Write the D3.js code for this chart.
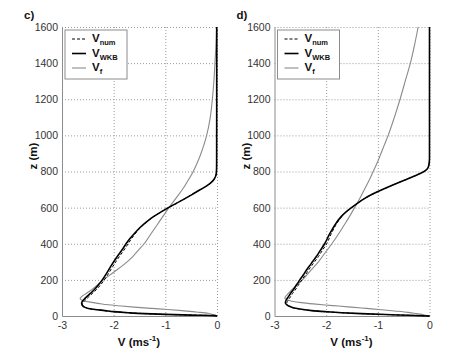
<!DOCTYPE html>
<html><head><meta charset="utf-8">
<script src="https://cdn.jsdelivr.net/npm/d3@7"></script>
<style>
body{margin:0;background:#fff;}
svg{display:block;font-family:"Liberation Sans",Arial,sans-serif;}
</style></head><body>
<svg id="c" width="474" height="355"></svg>
<script>
// ---- data ----
const xTicks = [-3, -2, -1, 0];
const yTicks = [0, 200, 400, 600, 800, 1000, 1200, 1400, 1600];
const panelLabels = ["c)", "d)"];

// panel c
const zWkbC = [0,2,5,9,13,18,24,30,36,42,50,61,70,79,90,107,125,144,170,200,235,273,329,365,400,430,460,490,520,550,575,600,625,650,675,700,720,740,760,780,800,850,1600];
const vWkbC = [0,-0.04,-0.5,-1.0,-1.4,-1.72,-2.0,-2.17,-2.36,-2.49,-2.57,-2.61,-2.62,-2.61,-2.58,-2.52,-2.45,-2.38,-2.30,-2.22,-2.14,-2.06,-1.93,-1.84,-1.76,-1.68,-1.59,-1.49,-1.37,-1.23,-1.09,-0.94,-0.78,-0.62,-0.47,-0.32,-0.20,-0.11,-0.05,-0.02,-0.01,-0.007,-0.005];
const zNumC = [0,2,5,9,13,18,24,30,36,42,50,61,70,79,90,107,125,144,170,200,235,273,329,365,400,430,460,490,520,550,575,600,625,650,675,700,720,740,760,780,800,850,1600];
const vNumC = [0,-0.04,-0.5,-1.0,-1.4,-1.72,-2.0,-2.17,-2.36,-2.49,-2.57,-2.61,-2.60,-2.58,-2.54,-2.48,-2.41,-2.34,-2.26,-2.18,-2.10,-2.02,-1.89,-1.80,-1.72,-1.65,-1.57,-1.48,-1.36,-1.23,-1.09,-0.94,-0.78,-0.62,-0.47,-0.32,-0.20,-0.11,-0.05,-0.02,-0.01,-0.007,-0.005];
const zFC = [0,8,15,22,30,36,42,49,55,62,70,78,86,95,107,125,144,170,200,228,255,290,329,365,400,450,500,550,600,650,700,750,800,850,900,950,1000,1100,1200,1300,1400,1500,1600];
const vFC = [0,-0.08,-0.17,-0.40,-0.68,-0.95,-1.26,-1.60,-1.85,-2.10,-2.30,-2.48,-2.60,-2.65,-2.62,-2.53,-2.43,-2.32,-2.20,-2.07,-1.94,-1.78,-1.63,-1.52,-1.41,-1.29,-1.17,-1.05,-0.93,-0.80,-0.67,-0.56,-0.46,-0.38,-0.31,-0.25,-0.20,-0.13,-0.09,-0.06,-0.04,-0.02,-0.01];

// panel d
const zWkbD = [0,4,8,13,18,24,30,37,44,52,62,74,90,107,125,144,170,200,228,255,290,329,365,400,450,500,550,575,600,625,650,675,700,725,750,775,790,805,820,840,870,1600];
const vWkbD = [0,-0.41,-0.85,-1.32,-1.70,-2.02,-2.28,-2.48,-2.62,-2.70,-2.76,-2.79,-2.77,-2.73,-2.69,-2.64,-2.58,-2.51,-2.44,-2.38,-2.29,-2.19,-2.11,-2.03,-1.94,-1.84,-1.71,-1.62,-1.51,-1.39,-1.26,-1.10,-0.91,-0.71,-0.50,-0.29,-0.17,-0.08,-0.03,-0.01,0,0];
const zNumD = [0,4,8,13,18,24,30,37,44,52,62,74,90,107,125,144,170,200,228,255,290,329,365,400,450,500,550,575,600,625,650,675,700,725,750,775,790,805,820,840,870,1600];
const vNumD = [0,-0.41,-0.85,-1.32,-1.70,-2.02,-2.28,-2.48,-2.62,-2.70,-2.75,-2.76,-2.73,-2.69,-2.65,-2.60,-2.54,-2.47,-2.40,-2.34,-2.25,-2.15,-2.07,-1.99,-1.91,-1.82,-1.70,-1.62,-1.51,-1.39,-1.26,-1.10,-0.91,-0.71,-0.50,-0.29,-0.17,-0.08,-0.03,-0.01,0,0];
const zFD = [0,6,13,20,28,35,42,49,55,61,67,74,82,90,98,107,116,130,144,170,200,255,300,350,400,450,500,550,600,650,700,750,800,850,900,950,1000,1100,1200,1300,1400,1500,1600];
const vFD = [0,-0.10,-0.25,-0.41,-0.68,-0.93,-1.22,-1.51,-1.76,-2.02,-2.25,-2.48,-2.66,-2.76,-2.80,-2.79,-2.76,-2.72,-2.67,-2.57,-2.46,-2.29,-2.15,-2.02,-1.89,-1.77,-1.66,-1.55,-1.45,-1.35,-1.26,-1.17,-1.09,-1.01,-0.94,-0.87,-0.80,-0.68,-0.57,-0.47,-0.37,-0.29,-0.22];

// ---- drawing ----
const svg = d3.select("#c");
const panels = [
  {left:62, label:panelLabels[0], num:[zNumC,vNumC], wkb:[zWkbC,vWkbC], f:[zFC,vFC]},
  {left:274.5, label:panelLabels[1], num:[zNumD,vNumD], wkb:[zWkbD,vWkbD], f:[zFD,vFD]}
];
const W = 155, plotTop = 27, plotBottom = 316;

panels.forEach(p => {
  const x = d3.scaleLinear().domain([-3,0]).range([p.left, p.left+W]);
  const y = d3.scaleLinear().domain([0,1600]).range([plotBottom, plotTop]);
  const g = svg.append("g");

  // grid
  g.append("g").selectAll("line").data(xTicks.slice(1)).join("line")
    .attr("x1", d=>x(d)+0.5).attr("x2", d=>x(d)+0.5).attr("y1", plotTop).attr("y2", plotBottom)
    .attr("stroke","#9a9a9a").attr("stroke-width",1).attr("stroke-dasharray","1,2");
  g.append("g").selectAll("line").data(yTicks.slice(1)).join("line")
    .attr("y1", d=>y(d)+0.5).attr("y2", d=>y(d)+0.5).attr("x1", p.left).attr("x2", p.left+W)
    .attr("stroke","#9a9a9a").attr("stroke-width",1).attr("stroke-dasharray","1,2");

  // axes
  const fmt = d => String(d);
  const ax = g.append("g").attr("transform",`translate(0,${plotBottom})`)
    .call(d3.axisBottom(x).tickValues(xTicks).tickSize(0).tickPadding(4).tickFormat(fmt));
  const ay = g.append("g").attr("transform",`translate(${p.left},0)`)
    .call(d3.axisLeft(y).tickValues(yTicks).tickSize(0).tickPadding(4).tickFormat(fmt));
  [ax, ay].forEach(a => {
    a.select(".domain").attr("stroke","#8c8c8c").attr("stroke-width",1);
    a.selectAll("text").attr("fill","#333").style("font-size","10.5px")
      .style("font-family","'Liberation Sans',Arial,sans-serif");
  });
  ax.selectAll("text").attr("dy","0.9em");

  // curves
  const line = d3.line().x(d=>x(d[1])).y(d=>y(d[0])).curve(d3.curveMonotoneY);
  const pts = arr => arr[0].map((z,i)=>[z, arr[1][i]]);
  g.append("path").datum(pts(p.f)).attr("d", line).attr("fill","none")
    .attr("stroke","#8a8a8a").attr("stroke-width",1.1);
  g.append("path").datum(pts(p.wkb)).attr("d", line).attr("fill","none")
    .attr("stroke","#000").attr("stroke-width",1.6);
  g.append("path").datum(pts(p.num)).attr("d", line).attr("fill","none")
    .attr("stroke","#000").attr("stroke-width",1).attr("stroke-dasharray","3,2");

  // panel label
  svg.append("text").attr("x", p.left-38).attr("y", 19).text(p.label)
    .style("font-size","11.5px").style("font-weight","bold").attr("fill","#111");

  // axis labels
  const xl = svg.append("text").attr("x", p.left+W/2-0.5).attr("y", 346).attr("text-anchor","middle")
    .style("font-size","11.5px").style("font-weight","bold").attr("fill","#111");
  xl.append("tspan").text("V (ms");
  xl.append("tspan").attr("dy",-5).style("font-size","8px").text("-1");
  xl.append("tspan").attr("dy",5).text(")");
  svg.append("text").attr("transform",`translate(${p.left-25},156) rotate(-90)`)
    .attr("text-anchor","middle").style("font-size","11.5px").style("font-weight","bold")
    .attr("fill","#111").text("z (m)");

  // legend
  const lx = p.left+3, ly = 30;
  const lg = svg.append("g");
  lg.append("rect").attr("x", lx).attr("y", ly).attr("width", 62).attr("height", 49)
    .attr("fill","#fff").attr("stroke","#8c8c8c").attr("stroke-width",1);
  const entries = [
    {sub:"num", stroke:"#000", w:1, dash:"3,2"},
    {sub:"WKB", stroke:"#000", w:1.6, dash:null},
    {sub:"f", stroke:"#8a8a8a", w:1.1, dash:null}
  ];
  entries.forEach((e,i) => {
    const yy = ly + 9 + i*14.5;
    lg.append("line").attr("x1", lx+7).attr("x2", lx+21).attr("y1", yy).attr("y2", yy)
      .attr("stroke", e.stroke).attr("stroke-width", e.w).attr("stroke-dasharray", e.dash);
    const t = lg.append("text").attr("x", lx+27).attr("y", yy+3).attr("fill","#111")
      .style("font-size","11.5px").style("font-weight","bold");
    t.append("tspan").text("V");
    t.append("tspan").attr("dy",3).style("font-size","7.5px").text(e.sub);
  });
});
</script>
</body></html>
